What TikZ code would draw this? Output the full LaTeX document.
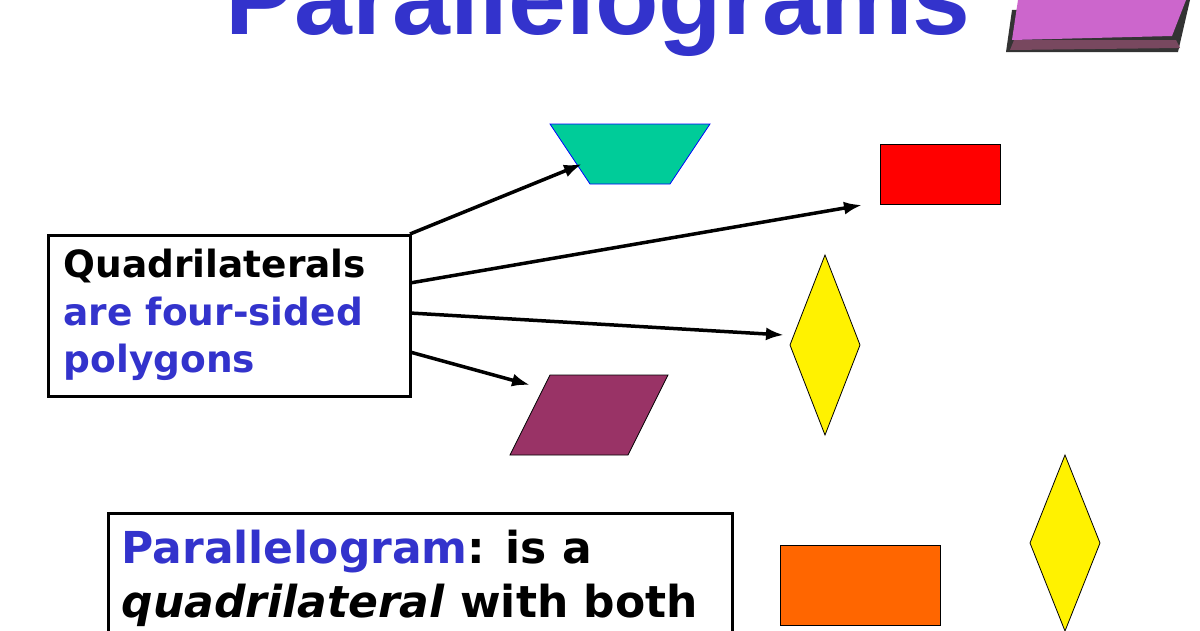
\documentclass[tikz,border=0pt]{standalone}
\usepackage{fontspec}
\setmainfont{DejaVu Sans}
\newfontfamily\titlefont{Liberation Sans}
\definecolor{tblue}{HTML}{3333CC}
\begin{document}
\begin{tikzpicture}[x=1pt,y=-1pt,
  arr/.style={line width=3.5pt,-{Latex[length=18pt,width=13pt]}},
  box/.style={draw=black,line width=3pt},
  shp/.style={draw=black,line width=0.8pt}]
\usetikzlibrary{arrows.meta}
\useasboundingbox (0,0) rectangle (1200,630);
\clip (0,0) rectangle (1200,630);
\fill[white] (0,0) rectangle (1200,630);
% title
\node[anchor=base,text=tblue,font=\titlefont\fontsize{104}{104}\selectfont\bfseries] (title) at (598,34) {Parallelograms};
% 3D parallelogram
\fill[black!80] (1012,10) -- (1190,0) -- (1178,52) -- (1006,52) -- cycle;
\fill[black!60!magenta] (1014,40) -- (1176,40) -- (1180,48) -- (1010,50) -- cycle;
\fill[fill={rgb,255:red,204;green,102;blue,204}] (1018,0) -- (1186,0) -- (1172,36) -- (1012,40) -- cycle;
% shapes
\draw[draw=blue,fill={rgb,255:red,0;green,204;blue,153},line width=0.8pt] (550,124) -- (710,124) -- (670,184) -- (590,184) -- cycle;
\node[shp,fill=red,minimum width=120pt,minimum height=60pt,inner sep=0] (red) at (940,174) {};
\draw[shp,fill=yellow] (825,255) -- (860,345) -- (825,435) -- (790,345) -- cycle;
\draw[shp,fill={rgb,255:red,153;green,51;blue,102}] (550,375) -- (668,375) -- (628,455) -- (510,455) -- cycle;
\node[shp,fill={rgb,255:red,255;green,102;blue,0},minimum width=160pt,minimum height=80pt,inner sep=0] (orange) at (860,585) {};
\draw[shp,fill=yellow] (1065,455) -- (1100,543) -- (1065,631) -- (1030,543) -- cycle;
% box 1
\draw[box] (48,235) rectangle (410,396);
\node[anchor=base west,font=\fontsize{37.5}{37.5}\selectfont\bfseries] (q1) at (60,277) {Quadrilaterals};
\node[anchor=base west,text=tblue,font=\fontsize{37.5}{37.5}\selectfont\bfseries] (q2) at (60,325) {are four-sided};
\node[anchor=base west,text=tblue,font=\fontsize{37.5}{37.5}\selectfont\bfseries] (q3) at (60,372) {polygons};
% box 2
\draw[box] (108,513) rectangle (732,660);
\node[anchor=base west,font=\fontsize{44}{44}\selectfont\bfseries] (p1) at (118,563) {\textcolor{tblue}{Parallelogram}: is a};
\node[anchor=base west,font=\fontsize{44}{44}\selectfont\bfseries] (p2) at (118,617) {\textit{quadrilateral} with both};
% arrows
\coordinate (s1) at (410,234); \coordinate (e1) at (582,164);
\coordinate (s2) at (410,283); \coordinate (e2) at (862,205);
\coordinate (s3) at (410,313); \coordinate (e3) at (784,335);
\coordinate (s4) at (410,352); \coordinate (e4) at (530,385);
\draw[arr] (s1) -- (e1);
\draw[arr] (s2) -- (e2);
\draw[arr] (s3) -- (e3);
\draw[arr] (s4) -- (e4);
\end{tikzpicture}
\end{document}
